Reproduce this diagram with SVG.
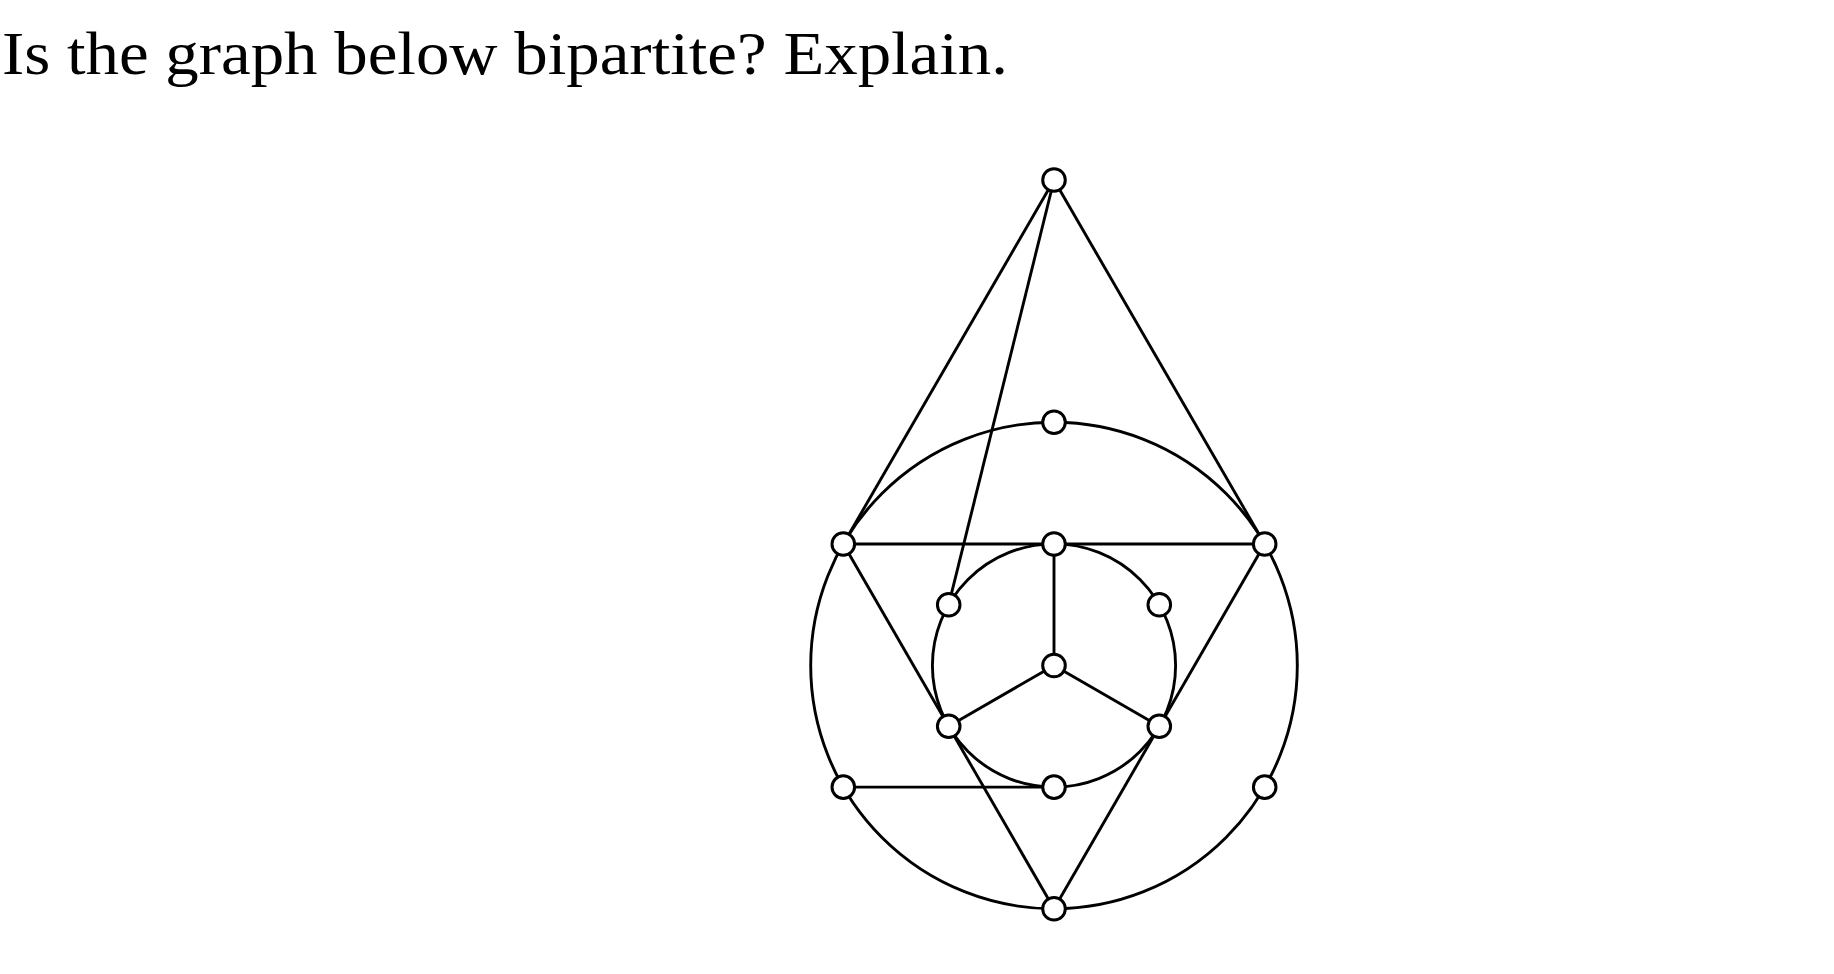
<svg xmlns="http://www.w3.org/2000/svg" width="1834" height="974" viewBox="0 0 1834 974">
<style>
.e{stroke:#000;stroke-width:2.9;fill:none}
.n{fill:#fff;stroke:#000;stroke-width:3}
.t{font-family:"Liberation Serif","DejaVu Serif",serif;font-size:62px;fill:#000}
</style>
<rect width="1834" height="974" fill="#fff"/>
<text class="t" x="2" y="74" textLength="1006" lengthAdjust="spacingAndGlyphs">Is the graph below bipartite? Explain.</text>
<g id="edges">
<circle class="e" cx="1054" cy="665.5" r="243.3"/>
<circle class="e" cx="1054" cy="665.5" r="121.6"/>
<line class="e" x1="1054" y1="180" x2="843.3" y2="544"/>
<line class="e" x1="1054" y1="180" x2="1264.7" y2="544"/>
<line class="e" x1="1054" y1="180" x2="948.7" y2="604.7"/>
<line class="e" x1="843.3" y1="544" x2="1264.7" y2="544"/>
<line class="e" x1="1054" y1="544" x2="1054" y2="665.5"/>
<line class="e" x1="1054" y1="665.5" x2="948.7" y2="726.3"/>
<line class="e" x1="1054" y1="665.5" x2="1159.3" y2="726.3"/>
<line class="e" x1="843.3" y1="544" x2="1054" y2="908.8"/>
<line class="e" x1="1264.7" y1="544" x2="1054" y2="908.8"/>
<line class="e" x1="843.3" y1="787.1" x2="1054" y2="787.1"/>
</g>
<g id="n-top"><circle class="n" cx="1054" cy="180" r="11.3"/></g>
<g id="n-o1"><circle class="n" cx="1054" cy="422.2" r="11.3"/></g>
<g id="n-o2"><circle class="n" cx="843.3" cy="544" r="11.3"/></g>
<g id="n-o3"><circle class="n" cx="1264.7" cy="544" r="11.3"/></g>
<g id="n-o4"><circle class="n" cx="843.3" cy="787.1" r="11.3"/></g>
<g id="n-o5"><circle class="n" cx="1264.7" cy="787.1" r="11.3"/></g>
<g id="n-o6"><circle class="n" cx="1054" cy="908.8" r="11.3"/></g>
<g id="n-i1"><circle class="n" cx="1054" cy="544" r="11.3"/></g>
<g id="n-i2"><circle class="n" cx="948.7" cy="604.7" r="11.3"/></g>
<g id="n-i3"><circle class="n" cx="1159.3" cy="604.7" r="11.3"/></g>
<g id="n-i4"><circle class="n" cx="948.7" cy="726.3" r="11.3"/></g>
<g id="n-i5"><circle class="n" cx="1159.3" cy="726.3" r="11.3"/></g>
<g id="n-i6"><circle class="n" cx="1054" cy="787.1" r="11.3"/></g>
<g id="n-c"><circle class="n" cx="1054" cy="665.5" r="11.3"/></g>
</svg>
